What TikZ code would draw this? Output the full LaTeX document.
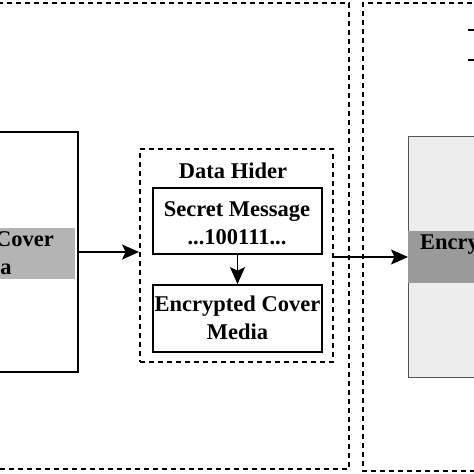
\documentclass[tikz,border=0pt]{standalone}
\usepackage{fontspec}
\setmainfont{Liberation Serif}
\usetikzlibrary{arrows.meta}
\definecolor{bandA}{HTML}{B4B4B4}
\definecolor{bandB}{HTML}{9A9A9A}
\definecolor{boxfill}{HTML}{EDEDED}
\definecolor{boxedge}{HTML}{555555}
\tikzset{
  dbox/.style={draw=black, line width=1.8pt, dash pattern=on 5pt off 4pt},
  sbox/.style={draw=black, line width=1.7pt},
  lbl/.style={font=\fontsize{22.5}{28}\selectfont\bfseries, align=center, inner sep=0pt},
  arr/.style={line width=1.7pt, -{Stealth[length=17pt,width=15pt,inset=3.5pt]}},
}
\begin{document}
\begin{tikzpicture}[x=1pt,y=-1pt]
\useasboundingbox (0,0) rectangle (474,474);
\clip (0,0) rectangle (474,474);
% outer dashed regions
\draw[dbox] (-20,3) -- (349,3) -- (349,469) -- (-20,469);
\draw[dbox] (490,3) -- (363,3) -- (363,471) -- (490,471);
% left box
\node[sbox, minimum width=200pt, minimum height=240pt, inner sep=0pt] (orig) at (-22,252) {};
\fill[bandA] (-30,228) rectangle (75,279);
\node[lbl] (origtxt) at (-19,253) {Original Cover\\Media};
% data hider
\node[dbox, minimum width=193pt, minimum height=213pt, inner sep=0pt] (hider) at (236.5,255.5) {};
\node[lbl] (title) at (233,171) {Data Hider};
\node[sbox, minimum width=169pt, minimum height=66pt, inner sep=0pt] (secret) at (237.5,221) {};
\node[lbl] (secrettxt) at (237,223) {Secret Message\\...100111...};
\node[sbox, minimum width=169pt, minimum height=67pt, inner sep=0pt] (enc) at (237.5,318.5) {};
\node[lbl] (enctxt) at (237.5,318) {Encrypted Cover\\Media};
% right box
\node[draw=boxedge, fill=boxfill, line width=1.4pt, minimum width=200pt, minimum height=241pt, inner sep=0pt, anchor=north west] (encbox) at (408,136) {};
\fill[bandB] (408,231) rectangle (480,283);
\node[lbl, anchor=west] (encboxtxt) at (420,244) {Encrypted Cover};
% top right fragments
\draw[line width=1.5pt] (468,30) -- (474,30);
\draw[line width=1.5pt] (468,60) -- (474,60);
% arrows
\draw[arr] (orig.east |- 0,252) -- (hider.west |- 0,252);
\draw[arr] (secret.south) -- (enc.north);
\draw[arr] (hider.east |- 0,257) -- (encbox.west |- 0,257);
\end{tikzpicture}
\end{document}
